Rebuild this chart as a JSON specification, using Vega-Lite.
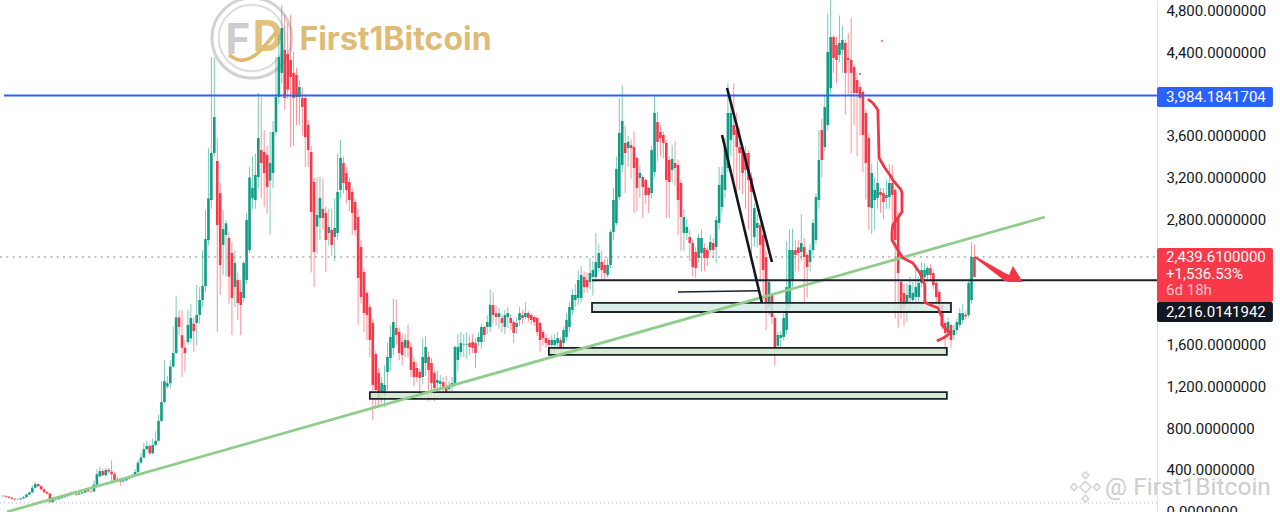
{
  "$schema": "https://vega.github.io/schema/vega-lite/v6.json",
  "width": 1157,
  "height": 512,
  "autosize": {"type": "none"},
  "padding": {"left": 0, "top": 0, "right": 123, "bottom": 0},
  "background": "white",
  "view": {"stroke": null},
  "datasets": {
    "candles": [
      {"n":0,"open":150,"close":152,"high":160,"low":140},{"n":1,"open":152,"close":145,"high":158,"low":135},{"n":2,"open":145,"close":135,"high":150,"low":125},{"n":3,"open":135,"close":125,"high":142,"low":118},{"n":4,"open":125,"close":118,"high":130,"low":108},
      {"n":5,"open":118,"close":120,"high":128,"low":110},{"n":6,"open":120,"close":128,"high":132,"low":115},{"n":7,"open":128,"close":140,"high":150,"low":122},{"n":8,"open":140,"close":165,"high":175,"low":135},{"n":9,"open":165,"close":185,"high":195,"low":160},
      {"n":10,"open":185,"close":230,"high":255,"low":180},{"n":11,"open":230,"close":265,"high":285,"low":225},{"n":12,"open":265,"close":245,"high":270,"low":235},{"n":13,"open":245,"close":215,"high":255,"low":205},{"n":14,"open":215,"close":190,"high":225,"low":175},
      {"n":15,"open":190,"close":175,"high":200,"low":165},{"n":16,"open":175,"close":95,"high":180,"low":80},{"n":17,"open":95,"close":125,"high":140,"low":85},{"n":18,"open":125,"close":120,"high":135,"low":100},{"n":19,"open":120,"close":130,"high":140,"low":115},
      {"n":20,"open":130,"close":140,"high":150,"low":125},{"n":21,"open":140,"close":150,"high":165,"low":135},{"n":22,"open":150,"close":160,"high":175,"low":145},{"n":23,"open":160,"close":180,"high":195,"low":155},{"n":24,"open":180,"close":172,"high":195,"low":165},
      {"n":25,"open":172,"close":165,"high":180,"low":155},{"n":26,"open":165,"close":175,"high":190,"low":160},{"n":27,"open":175,"close":185,"high":195,"low":170},{"n":28,"open":185,"close":205,"high":220,"low":180},{"n":29,"open":205,"close":195,"high":215,"low":190},
      {"n":30,"open":195,"close":192,"high":205,"low":180},{"n":31,"open":195,"close":260,"high":300,"low":190},{"n":32,"open":260,"close":360,"high":410,"low":250},{"n":33,"open":340,"close":390,"high":430,"low":330},{"n":34,"open":390,"close":350,"high":410,"low":340},
      {"n":35,"open":350,"close":400,"high":420,"low":340},{"n":36,"open":400,"close":385,"high":420,"low":370},{"n":37,"open":385,"close":360,"high":490,"low":290},{"n":38,"open":360,"close":300,"high":380,"low":280},{"n":39,"open":300,"close":310,"high":335,"low":280},
      {"n":40,"open":310,"close":290,"high":320,"low":250},{"n":41,"open":290,"close":300,"high":320,"low":280},{"n":42,"open":300,"close":320,"high":330,"low":295},{"n":43,"open":320,"close":335,"high":350,"low":310},{"n":44,"open":335,"close":345,"high":360,"low":325},
      {"n":45,"open":345,"close":380,"high":410,"low":335},{"n":46,"open":380,"close":470,"high":490,"low":370},{"n":47,"open":470,"close":520,"high":560,"low":460},{"n":48,"open":520,"close":600,"high":660,"low":510},{"n":49,"open":600,"close":630,"high":680,"low":590},
      {"n":50,"open":630,"close":560,"high":650,"low":540},{"n":51,"open":560,"close":640,"high":700,"low":550},{"n":52,"open":640,"close":680,"high":770,"low":630},{"n":53,"open":680,"close":870,"high":930,"low":670},{"n":54,"open":870,"close":1050,"high":1250,"low":860},
      {"n":55,"open":1050,"close":1250,"high":1450,"low":1040},{"n":56,"open":1200,"close":1230,"high":1300,"low":1180},{"n":57,"open":1230,"close":1390,"high":1450,"low":1180},{"n":58,"open":1390,"close":1520,"high":1769,"low":1380},{"n":59,"open":1520,"close":1860,"high":2060,"low":1510},
      {"n":60,"open":1860,"close":1770,"high":1930,"low":1690},{"n":61,"open":1690,"close":1570,"high":1930,"low":1290},{"n":62,"open":1570,"close":1520,"high":1640,"low":1340},{"n":63,"open":1625,"close":1788,"high":1930,"low":1600},{"n":64,"open":1660,"close":1855,"high":1990,"low":1620},
      {"n":65,"open":1800,"close":1730,"high":1860,"low":1530},{"n":66,"open":1807,"close":1883,"high":2170,"low":1590},{"n":67,"open":1883,"close":2027,"high":2150,"low":1800},{"n":68,"open":2027,"close":2160,"high":2500,"low":1960},{"n":69,"open":2160,"close":2610,"high":2890,"low":2100},
      {"n":70,"open":2600,"close":3000,"high":3480,"low":2550},{"n":71,"open":2984,"close":3434,"high":4353,"low":2900},{"n":72,"open":3434,"close":3778,"high":4353,"low":3400},{"n":73,"open":3357,"close":2745,"high":3577,"low":1720},{"n":74,"open":3050,"close":2360,"high":3150,"low":2075},
      {"n":75,"open":2553,"close":2706,"high":2888,"low":2265},{"n":76,"open":2650,"close":2760,"high":2790,"low":2250},{"n":77,"open":2620,"close":2250,"high":2680,"low":1990},{"n":78,"open":2477,"close":2046,"high":2580,"low":1692},{"n":79,"open":2151,"close":2381,"high":2500,"low":1960},
      {"n":80,"open":2218,"close":1998,"high":2290,"low":1835},{"n":81,"open":2104,"close":1979,"high":2220,"low":1692},{"n":82,"open":2046,"close":2381,"high":2400,"low":2000},{"n":83,"open":2218,"close":2792,"high":2860,"low":2180},{"n":84,"open":2505,"close":3200,"high":3300,"low":2480},
      {"n":85,"open":3000,"close":3100,"high":3400,"low":2900},{"n":86,"open":2984,"close":3223,"high":3430,"low":2900},{"n":87,"open":3204,"close":3577,"high":4008,"low":3100},{"n":88,"open":3462,"close":3338,"high":3970,"low":3000},{"n":89,"open":3443,"close":3242,"high":3654,"low":2920},
      {"n":90,"open":3415,"close":3108,"high":3500,"low":2850},{"n":91,"open":3170,"close":3338,"high":3636,"low":2650},{"n":92,"open":3242,"close":3635,"high":3740,"low":3100},{"n":93,"open":3635,"close":3970,"high":4353,"low":3600},{"n":94,"open":3970,"close":4353,"high":4570,"low":3900},
      {"n":95,"open":4200,"close":4630,"high":4850,"low":4100},{"n":96,"open":4420,"close":3960,"high":4755,"low":3850},{"n":97,"open":4380,"close":4040,"high":4680,"low":3950},{"n":98,"open":4324,"close":4161,"high":4755,"low":3490},{"n":99,"open":4200,"close":3960,"high":4400,"low":3500},
      {"n":100,"open":4180,"close":3970,"high":4250,"low":3700},{"n":101,"open":3970,"close":4065,"high":4130,"low":3700},{"n":102,"open":3960,"close":3874,"high":4060,"low":3600},{"n":103,"open":3960,"close":3585,"high":4000,"low":3300},{"n":104,"open":3702,"close":3462,"high":3750,"low":3300},
      {"n":105,"open":3443,"close":2869,"high":3500,"low":2290},{"n":106,"open":3156,"close":2486,"high":3200,"low":2150},{"n":107,"open":2730,"close":2840,"high":3200,"low":2470},{"n":108,"open":2812,"close":3003,"high":3210,"low":2600},{"n":109,"open":2900,"close":2812,"high":3190,"low":2700},
      {"n":110,"open":2860,"close":2601,"high":2920,"low":2295},{"n":111,"open":2668,"close":2726,"high":2900,"low":2550},{"n":112,"open":2697,"close":2553,"high":2900,"low":2450},{"n":113,"open":2630,"close":2716,"high":3000,"low":2400},{"n":114,"open":2668,"close":3061,"high":3430,"low":2600},
      {"n":115,"open":3080,"close":3386,"high":3558,"low":3000},{"n":116,"open":3338,"close":3147,"high":3400,"low":3050},{"n":117,"open":3242,"close":3080,"high":3300,"low":2950},{"n":118,"open":3156,"close":2984,"high":3200,"low":2880},{"n":119,"open":3061,"close":2860,"high":3100,"low":2650},
      {"n":120,"open":2965,"close":2697,"high":3000,"low":2640},{"n":121,"open":2821,"close":2238,"high":2900,"low":1790},{"n":122,"open":2534,"close":2056,"high":2600,"low":1990},{"n":123,"open":2295,"close":1902,"high":2330,"low":1720},{"n":124,"open":2094,"close":1883,"high":2120,"low":1640},
      {"n":125,"open":1960,"close":1644,"high":1990,"low":1480},{"n":126,"open":1807,"close":1214,"high":1850,"low":880},{"n":127,"open":1510,"close":1166,"high":1540,"low":1000},{"n":128,"open":1328,"close":1089,"high":1380,"low":1000},{"n":129,"open":1137,"close":1233,"high":1290,"low":1040},
      {"n":130,"open":1118,"close":1214,"high":1400,"low":1000},{"n":131,"open":1338,"close":1482,"high":1620,"low":1160},{"n":132,"open":1472,"close":1673,"high":1780,"low":1350},{"n":133,"open":1568,"close":1816,"high":2040,"low":1500},{"n":134,"open":1760,"close":1692,"high":2030,"low":1600},
      {"n":135,"open":1721,"close":1520,"high":1760,"low":1450},{"n":136,"open":1625,"close":1500,"high":1700,"low":1400},{"n":137,"open":1570,"close":1644,"high":1700,"low":1480},{"n":138,"open":1640,"close":1565,"high":1790,"low":1475},{"n":139,"open":1577,"close":1357,"high":1620,"low":1290},
      {"n":140,"open":1434,"close":1290,"high":1480,"low":1200},{"n":141,"open":1376,"close":1290,"high":1430,"low":1240},{"n":142,"open":1338,"close":1281,"high":1370,"low":1130},{"n":143,"open":1290,"close":1482,"high":1660,"low":1220},{"n":144,"open":1424,"close":1577,"high":1680,"low":1300},
      {"n":145,"open":1482,"close":1357,"high":1530,"low":1060},{"n":146,"open":1424,"close":1233,"high":1470,"low":1150},{"n":147,"open":1328,"close":1185,"high":1350,"low":1060},{"n":148,"open":1233,"close":1261,"high":1350,"low":1170},{"n":149,"open":1225,"close":1250,"high":1310,"low":1160},
      {"n":150,"open":1240,"close":1185,"high":1290,"low":1150},{"n":151,"open":1195,"close":1140,"high":1300,"low":1110},{"n":152,"open":1175,"close":1214,"high":1250,"low":1130},{"n":153,"open":1195,"close":1233,"high":1290,"low":1150},{"n":154,"open":1233,"close":1577,"high":1590,"low":1200},
      {"n":155,"open":1453,"close":1577,"high":1700,"low":1340},{"n":156,"open":1529,"close":1615,"high":1720,"low":1480},{"n":157,"open":1596,"close":1600,"high":1700,"low":1480},{"n":158,"open":1600,"close":1605,"high":1720,"low":1460},{"n":159,"open":1615,"close":1577,"high":1690,"low":1500},
      {"n":160,"open":1625,"close":1568,"high":1700,"low":1520},{"n":161,"open":1615,"close":1520,"high":1660,"low":1376},{"n":162,"open":1625,"close":1673,"high":1720,"low":1580},{"n":163,"open":1625,"close":1769,"high":1800,"low":1560},{"n":164,"open":1769,"close":1692,"high":1780,"low":1620},
      {"n":165,"open":1769,"close":1816,"high":1880,"low":1700},{"n":166,"open":1769,"close":1979,"high":2130,"low":1720},{"n":167,"open":1979,"close":1883,"high":2100,"low":1800},{"n":168,"open":1900,"close":1864,"high":1970,"low":1780},{"n":169,"open":1864,"close":1902,"high":1950,"low":1750},
      {"n":170,"open":1855,"close":1807,"high":1890,"low":1720},{"n":171,"open":1769,"close":1883,"high":1930,"low":1700},{"n":172,"open":1864,"close":1902,"high":1960,"low":1760},{"n":173,"open":1855,"close":1807,"high":1890,"low":1740},{"n":174,"open":1816,"close":1711,"high":1840,"low":1615},
      {"n":175,"open":1769,"close":1807,"high":1860,"low":1700},{"n":176,"open":1835,"close":1902,"high":1960,"low":1780},{"n":177,"open":1883,"close":1855,"high":1930,"low":1800},{"n":178,"open":1864,"close":1902,"high":2008,"low":1840},{"n":179,"open":1902,"close":1855,"high":1920,"low":1820},
      {"n":180,"open":1883,"close":1835,"high":1900,"low":1790},{"n":181,"open":1864,"close":1816,"high":1880,"low":1780},{"n":182,"open":1855,"close":1721,"high":1870,"low":1680},{"n":183,"open":1807,"close":1644,"high":1820,"low":1530},{"n":184,"open":1721,"close":1663,"high":1740,"low":1590},
      {"n":185,"open":1663,"close":1615,"high":1700,"low":1570},{"n":186,"open":1644,"close":1596,"high":1670,"low":1530},{"n":187,"open":1596,"close":1644,"high":1690,"low":1520},{"n":188,"open":1596,"close":1644,"high":1700,"low":1530},{"n":189,"open":1615,"close":1663,"high":1720,"low":1550},
      {"n":190,"open":1644,"close":1577,"high":1670,"low":1480},{"n":191,"open":1615,"close":1740,"high":1770,"low":1570},{"n":192,"open":1673,"close":1835,"high":1900,"low":1640},{"n":193,"open":1769,"close":1960,"high":2010,"low":1720},{"n":194,"open":1931,"close":2075,"high":2130,"low":1880},
      {"n":195,"open":2027,"close":2075,"high":2180,"low":1960},{"n":196,"open":2046,"close":2218,"high":2310,"low":1980},{"n":197,"open":2046,"close":2266,"high":2350,"low":2000},{"n":198,"open":2247,"close":2151,"high":2300,"low":2090},{"n":199,"open":2218,"close":2151,"high":2290,"low":2100},
      {"n":200,"open":2199,"close":2285,"high":2430,"low":2130},{"n":201,"open":2247,"close":2314,"high":2400,"low":2070},{"n":202,"open":2247,"close":2391,"high":2670,"low":2200},{"n":203,"open":2333,"close":2477,"high":2560,"low":2300},{"n":204,"open":2391,"close":2314,"high":2500,"low":2220},
      {"n":205,"open":2362,"close":2285,"high":2420,"low":2220},{"n":206,"open":2266,"close":2362,"high":2430,"low":2240},{"n":207,"open":2362,"close":2678,"high":2700,"low":2330},{"n":208,"open":2678,"close":2984,"high":3100,"low":2600},{"n":209,"open":2764,"close":3280,"high":3400,"low":2740},
      {"n":210,"open":3013,"close":3626,"high":3960,"low":2980},{"n":211,"open":3319,"close":3740,"high":4080,"low":3250},{"n":212,"open":3530,"close":3434,"high":3700,"low":3050},{"n":213,"open":3480,"close":3540,"high":3600,"low":3300},{"n":214,"open":3510,"close":3480,"high":3560,"low":3190},
      {"n":215,"open":3491,"close":3290,"high":3640,"low":2860},{"n":216,"open":3386,"close":3099,"high":3400,"low":2880},{"n":217,"open":3195,"close":3242,"high":3320,"low":3000},{"n":218,"open":3204,"close":3108,"high":3220,"low":2810},{"n":219,"open":3175,"close":3032,"high":3190,"low":2950},
      {"n":220,"open":3099,"close":3032,"high":3110,"low":2860},{"n":221,"open":3051,"close":3462,"high":3500,"low":3000},{"n":222,"open":3252,"close":3817,"high":3980,"low":3200},{"n":223,"open":3730,"close":3540,"high":3830,"low":3350},{"n":224,"open":3635,"close":3577,"high":3700,"low":3400},
      {"n":225,"open":3606,"close":3530,"high":3640,"low":3380},{"n":226,"open":3530,"close":3175,"high":3560,"low":2810},{"n":227,"open":3367,"close":3156,"high":3400,"low":2810},{"n":228,"open":3271,"close":3377,"high":3510,"low":3150},{"n":229,"open":3338,"close":3290,"high":3550,"low":3120},
      {"n":230,"open":3319,"close":2984,"high":3370,"low":2650},{"n":231,"open":3147,"close":2821,"high":3180,"low":2500},{"n":232,"open":2668,"close":2821,"high":2900,"low":2500},{"n":233,"open":2668,"close":2726,"high":2800,"low":2600},{"n":234,"open":2630,"close":2572,"high":2700,"low":2400},
      {"n":235,"open":2572,"close":2343,"high":2600,"low":2250},{"n":236,"open":2486,"close":2333,"high":2530,"low":2240},{"n":237,"open":2429,"close":2620,"high":2660,"low":2380},{"n":238,"open":2477,"close":2620,"high":2700,"low":2300},{"n":239,"open":2525,"close":2429,"high":2570,"low":2300},
      {"n":240,"open":2505,"close":2429,"high":2530,"low":2350},{"n":241,"open":2505,"close":2582,"high":2650,"low":2480},{"n":242,"open":2572,"close":2505,"high":2620,"low":2430},{"n":243,"open":2534,"close":2792,"high":2830,"low":2380},{"n":244,"open":2764,"close":3128,"high":3300,"low":2700},
      {"n":245,"open":2917,"close":3223,"high":3300,"low":2860},{"n":246,"open":3080,"close":3491,"high":3580,"low":3000},{"n":247,"open":3290,"close":3817,"high":4100,"low":3250},{"n":248,"open":3558,"close":3817,"high":3990,"low":3400},{"n":249,"open":3702,"close":3606,"high":4100,"low":3100},
      {"n":250,"open":3654,"close":3491,"high":3820,"low":3000},{"n":251,"open":3491,"close":3434,"high":3680,"low":3080},{"n":252,"open":3480,"close":3242,"high":3500,"low":3040},{"n":253,"open":3434,"close":3271,"high":3500,"low":2900},{"n":254,"open":3434,"close":3175,"high":3460,"low":2700},
      {"n":255,"open":3195,"close":3061,"high":3250,"low":2400},{"n":256,"open":2630,"close":2907,"high":2950,"low":2540},{"n":257,"open":2716,"close":2764,"high":2850,"low":2530},{"n":258,"open":2745,"close":2553,"high":2770,"low":2200},{"n":259,"open":2649,"close":2314,"high":2680,"low":2020},
      {"n":260,"open":2438,"close":1931,"high":2500,"low":1740},{"n":261,"open":1950,"close":2199,"high":2230,"low":1880},{"n":262,"open":2075,"close":1864,"high":2090,"low":1800},{"n":263,"open":1855,"close":1560,"high":1880,"low":1400},{"n":264,"open":1590,"close":1692,"high":1720,"low":1530},
      {"n":265,"open":1663,"close":1692,"high":1730,"low":1530},{"n":266,"open":1673,"close":1855,"high":1900,"low":1640},{"n":267,"open":1740,"close":2151,"high":2590,"low":1700},{"n":268,"open":1950,"close":2505,"high":2700,"low":1900},{"n":269,"open":2218,"close":2505,"high":2710,"low":2150},
      {"n":270,"open":2505,"close":2458,"high":2600,"low":2300},{"n":271,"open":2530,"close":2477,"high":2600,"low":2300},{"n":272,"open":2486,"close":2572,"high":2850,"low":2400},{"n":273,"open":2534,"close":2438,"high":2620,"low":1970},{"n":274,"open":2458,"close":2343,"high":2480,"low":2050},
      {"n":275,"open":2391,"close":2505,"high":2560,"low":2300},{"n":276,"open":2505,"close":2764,"high":2800,"low":2460},{"n":277,"open":2601,"close":3013,"high":3050,"low":2560},{"n":278,"open":2984,"close":3367,"high":3650,"low":2900},{"n":279,"open":3654,"close":3367,"high":3760,"low":3200},
      {"n":280,"open":3491,"close":3874,"high":3980,"low":3450},{"n":281,"open":3702,"close":4400,"high":4770,"low":3650},{"n":282,"open":4055,"close":4544,"high":4898,"low":4000},{"n":283,"open":4544,"close":4343,"high":4560,"low":4200},{"n":284,"open":4467,"close":4324,"high":4550,"low":4100},
      {"n":285,"open":4372,"close":4487,"high":4750,"low":4300},{"n":286,"open":4420,"close":4515,"high":4650,"low":4200},{"n":287,"open":4487,"close":4200,"high":4520,"low":3800},{"n":288,"open":4345,"close":4324,"high":4580,"low":4000},{"n":289,"open":4324,"close":4200,"high":4730,"low":3430},
      {"n":290,"open":4257,"close":4008,"high":4280,"low":3700},{"n":291,"open":4132,"close":4008,"high":4200,"low":3400},{"n":292,"open":4065,"close":3960,"high":4110,"low":3600},{"n":293,"open":4017,"close":3606,"high":4040,"low":3250},{"n":294,"open":3817,"close":3338,"high":3850,"low":2990},
      {"n":295,"open":3577,"close":2917,"high":3620,"low":2700},{"n":296,"open":2907,"close":3242,"high":3330,"low":2660},{"n":297,"open":2984,"close":3080,"high":3200,"low":2700},{"n":298,"open":3003,"close":3147,"high":3360,"low":2900},{"n":299,"open":3061,"close":3032,"high":3100,"low":2860},
      {"n":300,"open":3051,"close":2965,"high":3100,"low":2800},{"n":301,"open":3003,"close":3032,"high":3180,"low":2900},{"n":302,"open":3013,"close":3147,"high":3330,"low":2900},{"n":303,"open":3147,"close":3032,"high":3320,"low":2700},{"n":304,"open":3080,"close":2601,"high":3100,"low":1850},
      {"n":305,"open":2821,"close":2285,"high":2870,"low":1760},{"n":306,"open":2199,"close":1902,"high":2220,"low":1850},{"n":307,"open":2094,"close":1950,"high":2180,"low":1780},{"n":308,"open":1998,"close":2075,"high":2190,"low":1820},{"n":309,"open":2046,"close":2170,"high":2250,"low":1900},
      {"n":310,"open":2027,"close":2094,"high":2200,"low":1980},{"n":311,"open":2056,"close":2151,"high":2350,"low":1950},{"n":312,"open":2056,"close":2190,"high":2250,"low":2000},{"n":313,"open":2190,"close":2314,"high":2390,"low":2150},{"n":314,"open":2247,"close":2314,"high":2380,"low":2180},
      {"n":315,"open":2266,"close":2333,"high":2350,"low":2200},{"n":316,"open":2330,"close":2266,"high":2370,"low":2200},{"n":317,"open":2285,"close":2170,"high":2320,"low":2130},{"n":318,"open":2190,"close":2056,"high":2210,"low":2000},{"n":319,"open":2104,"close":1960,"high":2130,"low":1900},
      {"n":320,"open":1979,"close":1788,"high":2000,"low":1740},{"n":321,"open":1807,"close":1711,"high":1830,"low":1500},{"n":322,"open":1711,"close":1816,"high":1860,"low":1650},{"n":323,"open":1788,"close":1644,"high":1800,"low":1570},{"n":324,"open":1692,"close":1740,"high":1790,"low":1650},
      {"n":325,"open":1740,"close":1816,"high":1850,"low":1700},{"n":326,"open":1788,"close":1902,"high":1950,"low":1760},{"n":327,"open":1835,"close":1902,"high":1990,"low":1800},{"n":328,"open":1885,"close":1870,"high":1920,"low":1840},{"n":329,"open":1883,"close":2190,"high":2220,"low":1860},
      {"n":330,"open":2027,"close":2438,"high":2580,"low":1990},{"n":331,"open":2438,"close":2247,"high":2560,"low":2240}
    ],
    "zones": [
      {"n":125,"n2":321.6,"p":1146,"p2":1080},
      {"n":186,"n2":321.6,"p":1568,"p2":1501}
    ],
    "zoneTeal": [{"n":200.7,"n2":323,"p":2000,"p2":1912}],
    "trend": [{"n":1.4,"p":0},{"n":355,"p":2821}],
    "thick": [
      {"group":"a","i":0,"n":246.7,"p":4056},{"group":"a","i":1,"n":262,"p":2391},
      {"group":"b","i":0,"n":245,"p":3606},{"group":"b","i":1,"n":258.6,"p":1998}
    ],
    "thin": [{"n":230,"p":2104},{"n":257.3,"p":2116}],
    "curve": [
      {"i":0,"n":294.7,"p":3950},{"i":1,"n":296.4,"p":3912},{"i":2,"n":298.1,"p":3845},{"i":3,"n":298.5,"p":3386},{"i":4,"n":300.5,"p":3290},
      {"i":5,"n":302.2,"p":3223},{"i":6,"n":303.2,"p":3175},{"i":7,"n":306,"p":3080},{"i":8,"n":306.3,"p":3051},{"i":9,"n":306.3,"p":2869},
      {"i":10,"n":303.2,"p":2745},{"i":11,"n":302.9,"p":2668},{"i":12,"n":302.9,"p":2601},{"i":13,"n":304.9,"p":2505},{"i":14,"n":306.6,"p":2429},
      {"i":15,"n":310,"p":2381},{"i":16,"n":312.4,"p":2285},{"i":17,"n":314.1,"p":2170},{"i":18,"n":314.1,"p":2008},{"i":19,"n":315.2,"p":1989},
      {"i":20,"n":318.6,"p":1950},{"i":21,"n":319.9,"p":1864},{"i":22,"n":319.9,"p":1788},{"i":23,"n":322.7,"p":1711},{"i":24,"n":321,"p":1673},{"i":25,"n":318.2,"p":1635}
    ],
    "arrow": [
      {"n":331.2,"p":2448,"p2":2429},{"n":341.4,"p":2285,"p2":2209},{"n":342.8,"p":2266,"p2":2199},{"n":344.1,"p":2352,"p2":2199},{"n":347.5,"p":2199,"p2":2199}
    ],
    "specks": [{"n":299.5,"p":4506},{"n":292,"p":4190}],
    "levels": [
      {"n":0.34,"n2":393.2,"p":3984}
    ],
    "support": [{"n":200.7,"n2":393.2,"p":2216}],
    "lastPrice": [{"n":-1.02,"n2":393.2,"p":2439}],
    "basePrice": [{"n":-1.02,"n2":393.2,"p":85}],
    "tagBlue": [{"n":393.2,"n2":432.7,"p":4065,"p2":3874}],
    "tagRed": [{"n":393.2,"n2":432.7,"p":2525,"p2":2008}],
    "tagDark": [{"n":393.2,"n2":432.7,"p":2008,"p2":1816}],
    "tagText": [
      {"n":396.3,"p":3965,"label":"3,984.1841704"},
      {"n":396.3,"p":2434,"label":"2,439.6100000"},
      {"n":396.3,"p":2276,"label":"+1,536.53%"},
      {"n":396.3,"p":1912,"label":"2,216.0141942"}
    ],
    "tagTimer": [{"n":396.3,"p":2123,"label":"6d 18h"}],
    "logoRing": [{"n":84.8,"p":4534}],
    "logoF": [{"n":80,"p":4510,"label":"F"}],
    "logoD": [{"n":90.3,"p":4530,"label":"D"}],
    "logoSwoosh": [
      {"i":0,"n":77,"p":4372},{"i":1,"n":81,"p":4322},{"i":2,"n":86,"p":4372},{"i":3,"n":90.3,"p":4496},{"i":4,"n":93.4,"p":4601}
    ],
    "logoName": [{"n":101,"p":4420,"label":"First1Bitcoin"}],
    "markSmall": [{"n":364.9,"p":237},{"n":372.7,"p":237},{"n":368.8,"p":350},{"n":368.8,"p":125}],
    "markBig": [{"n":368.8,"p":237}],
    "markName": [{"n":375.5,"p":163,"label":"@ First1Bitcoin"}]
  },
  "encoding": {
    "x": {"field": "n", "type": "quantitative", "scale": {"domain": [-1.02, 393.2]}, "axis": null},
    "y": {"field": "p", "type": "quantitative", "scale": {"domain": [-2, 4898]}, "title": null,
      "axis": {"orient": "right", "values": [0, 400, 800, 1200, 1600, 2800, 3200, 3600, 4400, 4800], "format": ",.7f", "ticks": false, "grid": false, "domainColor": "#e0e3eb", "domainWidth": 1, "labelColor": "#131722", "labelFont": "Roboto", "labelFontSize": 15, "labelPadding": 9, "labelBound": false, "labelFlush": false, "labelOverlap": false}}
  },
  "layer": [
    {
      "data": {"name": "logoRing"},
      "mark": {"type": "point", "shape": "circle", "size": 6400, "stroke": "#d2d2d2", "strokeWidth": 3, "filled": false, "opacity": 1}
    },
    {
      "data": {"name": "logoRing"},
      "mark": {"type": "point", "shape": "circle", "size": 4400, "stroke": "#dcdcdc", "strokeWidth": 2, "filled": false, "opacity": 1}
    },
    {
      "data": {"name": "logoF"},
      "mark": {"type": "text", "font": "Inter", "fontWeight": "bold", "fontSize": 42, "color": "#cdcdcd", "align": "center", "baseline": "middle"},
      "encoding": {"text": {"field": "label"}}
    },
    {
      "data": {"name": "logoD"},
      "mark": {"type": "text", "font": "Inter", "fontWeight": "bold", "fontSize": 42, "color": "#e3c07c", "align": "center", "baseline": "middle"},
      "encoding": {"text": {"field": "label"}}
    },
    {
      "data": {"name": "logoSwoosh"},
      "mark": {"type": "line", "interpolate": "monotone", "color": "#dfb96f", "strokeWidth": 3.5},
      "encoding": {"order": {"field": "i"}}
    },
    {
      "data": {"name": "logoName"},
      "mark": {"type": "text", "font": "Inter", "fontWeight": "bold", "fontSize": 32, "color": "#dfbb78", "align": "left", "baseline": "alphabetic"},
      "encoding": {"text": {"field": "label"}}
    },
    {
      "data": {"name": "lastPrice"},
      "mark": {"type": "rule", "color": "#a9adb5", "strokeWidth": 1.5, "strokeDash": [2, 4.3]},
      "encoding": {"x2": {"field": "n2"}}
    },
    {
      "data": {"name": "basePrice"},
      "mark": {"type": "rule", "color": "#b5b8bf", "strokeWidth": 1, "strokeDash": [1, 3]},
      "encoding": {"x2": {"field": "n2"}}
    },
    {
      "data": {"name": "candles"},
      "mark": {"type": "rule", "strokeWidth": 1, "opacity": 0.55},
      "encoding": {
        "y": {"field": "low", "type": "quantitative", "scale": {"domain": [-2, 4898]}, "title": null,
          "axis": {"orient": "right", "values": [0, 400, 800, 1200, 1600, 2800, 3200, 3600, 4400, 4800], "format": ",.7f", "ticks": false, "grid": false, "domainColor": "#e0e3eb", "domainWidth": 1, "labelColor": "#131722", "labelFont": "Roboto", "labelFontSize": 15, "labelPadding": 9, "labelBound": false, "labelFlush": false, "labelOverlap": false}},
        "y2": {"field": "high"},
        "color": {"condition": {"test": "datum.close >= datum.open", "value": "#0f9d85"}, "value": "#f7394a"}
      }
    },
    {
      "data": {"name": "candles"},
      "mark": {"type": "rule", "strokeWidth": 2.6},
      "encoding": {
        "y": {"field": "open", "type": "quantitative", "scale": {"domain": [-2, 4898]}, "title": null,
          "axis": {"orient": "right", "values": [0, 400, 800, 1200, 1600, 2800, 3200, 3600, 4400, 4800], "format": ",.7f", "ticks": false, "grid": false, "domainColor": "#e0e3eb", "domainWidth": 1, "labelColor": "#131722", "labelFont": "Roboto", "labelFontSize": 15, "labelPadding": 9, "labelBound": false, "labelFlush": false, "labelOverlap": false}},
        "y2": {"field": "close"},
        "color": {"condition": {"test": "datum.close >= datum.open", "value": "#0f9d85"}, "value": "#f7394a"}
      }
    },
    {
      "data": {"name": "zones"},
      "mark": {"type": "rect", "fill": "#cfe6cd", "fillOpacity": 0.85, "stroke": "#1e222d", "strokeWidth": 1.8},
      "encoding": {"x2": {"field": "n2"}, "y2": {"field": "p2"}}
    },
    {
      "data": {"name": "zoneTeal"},
      "mark": {"type": "rect", "fill": "#d3ece6", "fillOpacity": 0.85, "stroke": "#1e222d", "strokeWidth": 1.8},
      "encoding": {"x2": {"field": "n2"}, "y2": {"field": "p2"}}
    },
    {
      "data": {"name": "trend"},
      "mark": {"type": "line", "color": "#8fcd8b", "strokeWidth": 2.8}
    },
    {
      "data": {"name": "levels"},
      "mark": {"type": "rule", "color": "#2962ff", "strokeWidth": 2},
      "encoding": {"x2": {"field": "n2"}}
    },
    {
      "data": {"name": "support"},
      "mark": {"type": "rule", "color": "#1e222d", "strokeWidth": 2.2},
      "encoding": {"x2": {"field": "n2"}}
    },
    {
      "data": {"name": "thin"},
      "mark": {"type": "line", "color": "#1e222d", "strokeWidth": 1.6}
    },
    {
      "data": {"name": "thick"},
      "mark": {"type": "line", "color": "#14161c", "strokeWidth": 2.6},
      "encoding": {"detail": {"field": "group"}, "order": {"field": "i"}}
    },
    {
      "data": {"name": "curve"},
      "mark": {"type": "line", "color": "#f23645", "strokeWidth": 2.8, "strokeJoin": "round"},
      "encoding": {"order": {"field": "i"}}
    },
    {
      "data": {"name": "arrow"},
      "mark": {"type": "area", "color": "#f23645", "opacity": 1},
      "encoding": {"y2": {"field": "p2"}}
    },
    {
      "data": {"name": "specks"},
      "mark": {"type": "point", "shape": "circle", "filled": true, "size": 5, "color": "#f0707c", "opacity": 1}
    },
    {
      "data": {"name": "tagBlue"},
      "mark": {"type": "rect", "fill": "#2962ff", "cornerRadius": 2},
      "encoding": {"x2": {"field": "n2"}, "y2": {"field": "p2"}}
    },
    {
      "data": {"name": "tagRed"},
      "mark": {"type": "rect", "fill": "#f7394a", "cornerRadius": 2},
      "encoding": {"x2": {"field": "n2"}, "y2": {"field": "p2"}}
    },
    {
      "data": {"name": "tagDark"},
      "mark": {"type": "rect", "fill": "#131722", "cornerRadius": 2},
      "encoding": {"x2": {"field": "n2"}, "y2": {"field": "p2"}}
    },
    {
      "data": {"name": "tagText"},
      "mark": {"type": "text", "font": "Roboto", "fontSize": 15, "color": "white", "align": "left", "baseline": "middle"},
      "encoding": {"text": {"field": "label"}}
    },
    {
      "data": {"name": "tagTimer"},
      "mark": {"type": "text", "font": "Roboto", "fontSize": 15, "color": "#ffc4c9", "align": "left", "baseline": "middle"},
      "encoding": {"text": {"field": "label"}}
    },
    {
      "data": {"name": "markSmall"},
      "mark": {"type": "point", "shape": "diamond", "size": 45, "filled": false, "stroke": "#d4d4d4", "strokeWidth": 1.6, "opacity": 1}
    },
    {
      "data": {"name": "markBig"},
      "mark": {"type": "point", "shape": "diamond", "size": 130, "filled": false, "stroke": "#d4d4d4", "strokeWidth": 1.6, "opacity": 1}
    },
    {
      "data": {"name": "markName"},
      "mark": {"type": "text", "font": "Roboto", "fontSize": 24.5, "color": "#c8c8c8", "opacity": 0.9, "align": "left", "baseline": "alphabetic"},
      "encoding": {"text": {"field": "label"}}
    }
  ]
}
